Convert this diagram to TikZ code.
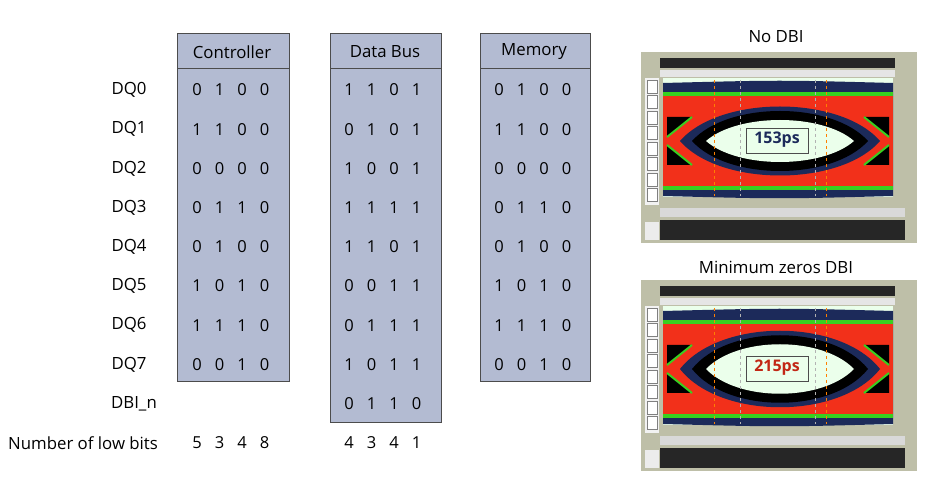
\documentclass[tikz,border=0pt]{standalone}
\usepackage{fontspec}
\setmainfont{Open Sans}
\begin{document}
\begin{tikzpicture}[x=1pt,y=-1pt,
  box/.style={draw=black!70,fill=boxc,line width=0.8pt},
  txt/.style={font=\fontsize{16.8}{18}\selectfont,inner sep=0pt},
  dig/.style={font=\fontsize{16.5}{18}\selectfont,inner sep=0pt}]
\definecolor{boxc}{HTML}{B3BBD2}
\definecolor{navy}{HTML}{1C2A5A}
\definecolor{eyered}{HTML}{F2301A}
\definecolor{eyegreen}{HTML}{38D020}
\definecolor{scopegray}{HTML}{BEBFA8}
\useasboundingbox (0,0) rectangle (946,486);
% boxes
\draw[box] (177,33) rectangle (289,68);
\draw[box] (177,68) rectangle (289,381);
\draw[box] (330,33) rectangle (441,68);
\draw[box] (330,68) rectangle (441,422);
\draw[box] (480,33) rectangle (590,68);
\draw[box] (480,68) rectangle (590,381);
\node[txt] (hc) at (232,52) {Controller};
\node[txt] (hd) at (385,52) {Data Bus};
\node[txt] (hm) at (534,52) {Memory};
% rows
\foreach \lab/\c/\d/\m [count=\i from 0] in {
 DQ0/{0,1,0,0}/{1,1,0,1}/{0,1,0,0},
 DQ1/{1,1,0,0}/{0,1,0,1}/{1,1,0,0},
 DQ2/{0,0,0,0}/{1,0,0,1}/{0,0,0,0},
 DQ3/{0,1,1,0}/{1,1,1,1}/{0,1,1,0},
 DQ4/{0,1,0,0}/{1,1,0,1}/{0,1,0,0},
 DQ5/{1,0,1,0}/{0,0,1,1}/{1,0,1,0},
 DQ6/{1,1,1,0}/{0,1,1,1}/{1,1,1,0},
 DQ7/{0,0,1,0}/{1,0,1,1}/{0,0,1,0}} {
  \pgfmathsetmacro\yy{90+39.2*\i}
  \node[txt] (l\i) at (129,\yy) {\lab};
  \foreach \v [count=\j from 0] in \c {\node[dig] (c\i\j) at (197+22.5*\j,\yy) {\v};}
  \foreach \v [count=\j from 0] in \d {\node[dig] (d\i\j) at (349+22.5*\j,\yy) {\v};}
  \foreach \v [count=\j from 0] in \m {\node[dig] (m\i\j) at (499+22.5*\j,\yy) {\v};}
}
\node[txt] (ldbi) at (134,404) {DBI\_n};
\foreach \v [count=\j from 0] in {0,1,1,0} {\node[dig] (dbi\j) at (349+22.5*\j,404) {\v};}
\node[txt,anchor=west] (lnum) at (8,443) {Number of low bits};
\foreach \v [count=\j from 0] in {5,3,4,8} {\node[dig] (nc\j) at (197+22.5*\j,443) {\v};}
\foreach \v [count=\j from 0] in {4,3,4,1} {\node[dig] (nd\j) at (349+22.5*\j,443) {\v};}
% titles
\node[txt] (t1) at (776,37) {No DBI};
\node[txt] (t2) at (776,267) {Minimum zeros DBI};
% scopes
\foreach \oy/\lab/\lc/\op in {0/153ps/navy/0,228/215ps/eyered!80!black/5} {
\begin{scope}[yshift=-\oy pt]
 \fill[scopegray] (641,52) rectangle (917,243);
 \fill[black!85] (660,58) rectangle (895,68);
 \fill[white!90!gray] (645,78) rectangle (659,205);
 \foreach \k in {0,...,7} \draw[gray,fill=white] (647,80+15.5*\k) rectangle (657,93+15.5*\k);
 \fill[black!85] (660,220) rectangle (905,240);
 \fill[white!85!gray] (645,222) rectangle (659,240);
 \fill[white!70!gray] (660,208) rectangle (905,217);
 \fill[white!80!gray] (660,70) rectangle (895,77);
 % plot
 \fill[green!8!white] (663,78) rectangle (893,197);
 \fill[navy] (663,83) .. controls (780,80) .. (893,83) -- (893,196) .. controls (780,199) .. (663,196) -- cycle;
 \fill[eyegreen] (663,92) rectangle (893,190);
 \fill[eyered] (663,96) rectangle (893,186);
 % crossing triangles
 \fill[black] (667,117) -- (692,117) -- (667,137) -- cycle;
 \fill[black] (667,165) -- (692,165) -- (667,145) -- cycle;
 \fill[black] (889,117) -- (864,117) -- (889,137) -- cycle;
 \fill[black] (889,165) -- (864,165) -- (889,145) -- cycle;
 \draw[eyegreen,line width=2pt] (667,137) -- (692,117) (667,145) -- (692,165) (889,137) -- (864,117) (889,145) -- (864,165);
 % eye
 \fill[navy] (680,141) .. controls (720,{95-\op}) and (840,{95-\op}) .. (880,141)
   .. controls (840,{187+\op}) and (720,{187+\op}) .. cycle;
 \fill[black] (692,141) .. controls (728,{101-\op}) and (832,{101-\op}) .. (868,141)
   .. controls (832,{181+\op}) and (728,{181+\op}) .. cycle;
 \fill[white!92!green] (706,141) .. controls (738,{113-\op}) and (822,{113-\op}) .. (854,141)
   .. controls (822,{169+\op}) and (738,{169+\op}) .. cycle;
 \draw[gray!60,dashed] (740,80) -- (740,196) (815,80) -- (815,196);
 \draw[orange,dashed] (714,80) -- (714,196) (826,80) -- (826,196);
 \draw[black!70] (746,128) rectangle (808,153);
 \node[font=\fontsize{16}{17}\selectfont\bfseries,text=\lc,inner sep=0pt] at (777,140) {\lab};
\end{scope}}
\end{tikzpicture}
\end{document}
